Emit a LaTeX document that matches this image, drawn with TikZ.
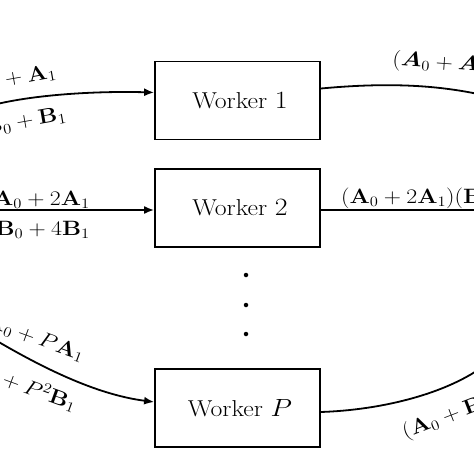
\documentclass[tikz,border=0pt]{standalone}
\usepackage{amsmath}
\usetikzlibrary{arrows.meta,calc}
\newcommand{\wide}[1]{\scalebox{1.15}[1]{#1}}
\newcommand{\wnum}[1]{{\fontsize{30}{32}\selectfont$#1$}}
\begin{document}
\begin{tikzpicture}[x=1pt,y=-1pt,
  box/.style={draw,line width=1.8pt,minimum width=165pt,minimum height=78pt,inner sep=0pt,font=\fontsize{23}{27}\selectfont},
  conn/.style={line width=1.8pt},
  arr/.style={conn,-{Latex[length=10pt,width=8pt]}},
  lab/.style={inner sep=0pt,font=\fontsize{20.5}{24}\selectfont},
  dot/.style={circle,fill,inner sep=0pt,minimum size=4.5pt}]
\useasboundingbox (0,0) rectangle (474,474);
\clip (0,0) rectangle (474,474);
\node[box] (w1) at (237.5,100.5) {\hspace{5pt}\scalebox{1.12}[1]{Worker \wnum{1}}};
\node[box] (w2) at (237.5,208) {\hspace{5pt}\scalebox{1.12}[1]{Worker \wnum{2}}};
\node[box] (wP) at (237.5,408) {\hspace{5pt}\scalebox{1.12}[1]{Worker \wnum{P}}};
\node[dot] (d1) at (246,275) {};
\node[dot] (d2) at (246,305) {};
\node[dot] (d3) at (246,334) {};
\coordinate (s1) at (-3,104);
\coordinate (t1) at (478,94);
\coordinate (s2) at (-3,210);
\coordinate (t2) at (478,210);
\coordinate (sP) at (-3,341);
\coordinate (tP) at (478,370);
\draw[arr] (s1) .. controls (40,94) and (100,91) .. ([yshift=8pt]w1.west);
\draw[conn] ([yshift=12pt]w1.east) .. controls (380,83) and (430,84) .. (t1);
\draw[arr] (s2) -- ([yshift=-2pt]w2.west);
\draw[conn] ([yshift=-2pt]w2.east) -- (t2);
\draw[arr] (sP) .. controls (50,372) and (100,395) .. ([yshift=6pt]wP.west);
\draw[conn] ([yshift=-4pt]wP.east) .. controls (380,410) and (440,395) .. (tP);
\node[lab,rotate=10,anchor=base east] (l1a) at (57,77) {\wide{$\mathbf{A}_0+\mathbf{A}_1$}};
\node[lab,rotate=10,anchor=base east] (l1b) at (67,120) {\wide{$\mathbf{B}_0+\mathbf{B}_1$}};
\node[lab,anchor=base east] (l2a) at (90,205) {\wide{$\mathbf{A}_0+2\mathbf{A}_1$}};
\node[lab,anchor=base east] (l2b) at (90,235) {\wide{$\mathbf{B}_0+4\mathbf{B}_1$}};
\node[lab,rotate=-20,anchor=base east] (lPa) at (82,361) {\wide{$\mathbf{A}_0+P\mathbf{A}_1$}};
\node[lab,rotate=-20,anchor=base east] (lPb) at (74,411) {\wide{$\mathbf{B}_0+P^2\mathbf{B}_1$}};
\node[lab,rotate=-4,anchor=base west] (o1) at (392,65) {\wide{$(\boldsymbol{A}_0+\boldsymbol{A}_1)(\boldsymbol{B}_0+\boldsymbol{B}_1)$}};
\node[lab,anchor=base west] (o2) at (341,203) {\wide{$(\mathbf{A}_0+2\mathbf{A}_1)(\mathbf{B}_0+4\mathbf{B}_1)$}};
\node[lab,rotate=21,anchor=base west] (oP) at (405,439) {\wide{$(\mathbf{A}_0+\mathbf{P}\mathbf{A}_1)(\mathbf{B}_0+\mathbf{P}^2\mathbf{B}_1)$}};
\end{tikzpicture}
\end{document}
